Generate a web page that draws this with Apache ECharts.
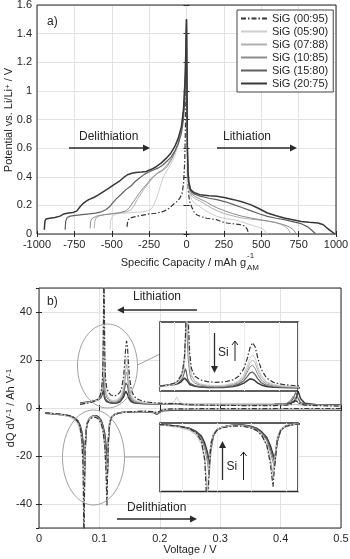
<!DOCTYPE html>
<html><head><meta charset="utf-8">
<script src="https://cdn.jsdelivr.net/npm/echarts@6/dist/echarts.min.js"></script>
<style>html,body{margin:0;padding:0;background:#fff}#c{width:350px;height:559px}</style>
</head><body><div id="c"></div>
<script>
// ---------- data: panel a) potential vs specific capacity [mAh/g, V] ----------
const names = ['SiG (00:95)','SiG (05:90)','SiG (07:88)','SiG (10:85)','SiG (15:80)','SiG (20:75)'];
const capTicks = [-1000,-750,-500,-250,0,250,500,750,1000];
const potTicks = [0,0.2,0.4,0.6,0.8,1,1.2,1.4,1.6];

const sig0095 = [[-398,0.05],[-393,0.09],[-382,0.11],[-350,0.12],[-300,0.13],[-250,0.14],[-200,0.145],[-150,0.16],[-115,0.18],[-85,0.21],[-60,0.23],[-45,0.25],[-30,0.28],[-20,0.35],[-12,0.5],[-6,0.8],[-2,1.2],[0,1.5],
  [2,1.1],[5,0.7],[8,0.45],[12,0.3],[20,0.23],[34,0.19],[50,0.155],[68,0.135],[100,0.12],[135,0.11],[170,0.105],[203,0.1],[235,0.085],[270,0.077],[320,0.07],[360,0.065],[390,0.055],[405,0.035],[412,0.015],[417,0]];
const sig0590 = [[-512,0.03],[-508,0.09],[-495,0.125],[-470,0.14],[-410,0.146],[-330,0.152],[-270,0.158],[-235,0.175],[-215,0.21],[-200,0.25],[-185,0.3],[-165,0.37],[-145,0.42],[-115,0.47],[-80,0.54],[-50,0.64],[-25,0.8],[-10,1.1],[0,1.5],
  [3,1.0],[6,0.6],[10,0.38],[18,0.3],[34,0.24],[60,0.21],[90,0.19],[135,0.158],[170,0.14],[203,0.123],[250,0.11],[316,0.1],[360,0.088],[406,0.072],[450,0.058],[496,0.042],[520,0.028],[533,0.015],[541,0]];
const sig0788 = [[-617,0.04],[-613,0.09],[-603,0.115],[-575,0.13],[-520,0.14],[-460,0.148],[-400,0.155],[-370,0.17],[-350,0.2],[-330,0.24],[-305,0.28],[-280,0.32],[-250,0.36],[-220,0.4],[-190,0.43],[-160,0.45],[-125,0.49],[-90,0.55],[-58,0.63],[-33,0.74],[-16,0.9],[-6,1.12],[0,1.5],
  [3,1.0],[6,0.6],[10,0.38],[18,0.3],[35,0.265],[60,0.245],[90,0.23],[130,0.205],[170,0.18],[210,0.16],[260,0.14],[316,0.125],[370,0.112],[428,0.104],[490,0.097],[541,0.09],[590,0.08],[630,0.068],[660,0.052],[680,0.035],[690,0.015],[695,0]];
const sig1085 = [[-645,0.04],[-641,0.09],[-630,0.11],[-600,0.125],[-550,0.135],[-500,0.14],[-450,0.148],[-410,0.16],[-385,0.18],[-365,0.21],[-345,0.24],[-320,0.28],[-290,0.32],[-265,0.35],[-235,0.39],[-200,0.42],[-165,0.44],[-130,0.47],[-95,0.53],[-60,0.62],[-35,0.73],[-18,0.88],[-7,1.1],[0,1.5],
  [3,1.0],[6,0.6],[10,0.4],[18,0.32],[35,0.28],[60,0.26],[90,0.245],[130,0.225],[170,0.2],[210,0.18],[260,0.16],[316,0.14],[370,0.125],[428,0.112],[490,0.1],[541,0.092],[600,0.08],[650,0.065],[690,0.048],[715,0.03],[728,0.012],[733,0]];
const sig1580 = [[-812,0.03],[-808,0.09],[-798,0.115],[-778,0.125],[-740,0.13],[-700,0.135],[-650,0.14],[-610,0.146],[-570,0.155],[-540,0.17],[-515,0.19],[-495,0.216],[-470,0.245],[-440,0.274],[-405,0.31],[-372,0.335],[-345,0.365],[-316,0.39],[-285,0.415],[-259,0.43],[-225,0.445],[-192,0.46],[-160,0.48],[-135,0.505],[-105,0.535],[-79,0.577],[-55,0.63],[-34,0.705],[-20,0.8],[-11,0.94],[-5,1.15],[0,1.5],
  [3,1.0],[6,0.6],[10,0.42],[16,0.34],[28,0.3],[50,0.28],[90,0.265],[150,0.25],[203,0.24],[260,0.225],[316,0.205],[370,0.185],[428,0.163],[490,0.14],[541,0.123],[600,0.11],[654,0.1],[710,0.087],[767,0.072],[810,0.05],[834,0.03],[852,0.012],[863,0]];
const sig2075 = [[-951,0.03],[-947,0.09],[-940,0.105],[-915,0.11],[-880,0.115],[-846,0.125],[-820,0.14],[-790,0.147],[-760,0.15],[-735,0.16],[-712,0.19],[-690,0.215],[-654,0.24],[-620,0.255],[-586,0.275],[-550,0.3],[-519,0.32],[-485,0.345],[-451,0.367],[-420,0.395],[-395,0.414],[-365,0.425],[-338,0.43],[-300,0.433],[-270,0.437],[-235,0.452],[-203,0.47],[-170,0.495],[-135,0.53],[-105,0.565],[-79,0.61],[-55,0.67],[-34,0.75],[-20,0.87],[-11,1.05],[-5,1.25],[0,1.5],
  [3,1.0],[6,0.62],[10,0.44],[16,0.36],[28,0.31],[50,0.29],[90,0.275],[150,0.268],[203,0.263],[260,0.253],[316,0.24],[370,0.225],[428,0.205],[480,0.18],[541,0.147],[600,0.128],[654,0.112],[710,0.1],[767,0.088],[820,0.082],[880,0.077],[915,0.065],[936,0.045],[965,0.022],[992,0]];

// ---------- data: panel b) dQ/dV vs voltage ----------
const voltTicks = [0,0.1,0.2,0.3,0.4,0.5];
const liV = [0.068,0.075,0.085,0.092,0.097,0.1,0.102,0.104,0.105,0.106,0.1065,0.107,0.1075,0.108,0.109,0.11,0.112,0.115,0.119,0.124,0.129,0.134,0.137,0.14,0.142,0.1435,0.145,0.1465,0.148,0.15,0.153,0.157,0.162,0.17,0.18,0.19,0.2,0.21,0.22,0.225,0.228,0.231,0.236,0.25,0.3,0.35,0.39,0.41,0.417,0.421,0.425,0.429,0.433,0.44,0.46,0.5];
const li0095 = [1.5,1.8,2.2,2.8,3.5,4.5,5.8,9,12,20,30,45,62,45,22,13,8.5,6.5,5.4,5,5.3,6.5,8.5,13,19,25,28,25.5,19,12.5,7.5,5,3.8,3,2.5,2.2,2,1.9,1.8,1.9,2,1.8,1.6,1.4,1.1,1,1,1.2,1.6,2.2,3,2.6,1.7,1.2,1,0.8];
const li0590 = [1.6,1.9,2.3,2.7,3.2,3.9,4.8,7,9.5,15,24,38,52,38,17,9.5,5.8,4.2,3.4,3.1,3.4,4.5,6,9.5,14.5,19,21,19,14,9,5.5,3.8,3,2.5,2.2,2,1.9,1.9,2.2,3,4.6,3,2,1.6,1.3,1.2,1.1,1.2,1.3,1.4,1.4,1.3,1.2,1.1,1,0.9];
const li0788 = [1.7,2,2.4,2.8,3.3,4,4.9,7,9.5,15,24,36,47,34,15.5,8.7,5.4,3.9,3.1,2.8,3,4,5.3,8.3,12.5,16.3,18,16.3,12,7.8,4.8,3.4,2.7,2.3,2,1.9,1.8,1.7,1.6,1.6,1.6,1.6,1.5,1.4,1.3,1.2,1.2,1.3,1.4,1.5,1.5,1.4,1.3,1.2,1.1,1];
const li1085 = [1.8,2.1,2.5,2.9,3.4,4.2,5.3,8,11.5,19,30,42,33,20,10,6.5,4.5,3.4,2.8,2.5,2.7,3.6,4.8,7.3,11,14,15,13,9.5,6.3,4,2.9,2.4,2.1,1.9,1.8,1.7,1.6,1.5,1.5,1.5,1.5,1.4,1.4,1.3,1.3,1.4,2,3.3,5,3.3,2,1.6,1.4,1.2,1];
const li1580 = [1.9,2.2,2.6,3,3.5,4.1,4.8,6.3,8,11,13,11.5,8.5,6.5,4.6,3.7,3,2.5,2.2,2.1,2.3,3,4,6,8.5,10.5,11,9.5,7,4.8,3.2,2.4,2.1,1.9,1.8,1.7,1.6,1.6,1.5,1.5,1.5,1.5,1.5,1.4,1.4,1.4,1.5,1.8,2.6,4,6.5,4,2.3,1.6,1.3,1.1];
const li2075 = [2,2.3,2.6,2.9,3.3,3.7,4.2,5.2,6.2,7.5,8,7.3,6,5,3.8,3.2,2.7,2.3,2.1,2,2.1,2.6,3.3,4.6,6,7,6.8,5.8,4.6,3.5,2.6,2.2,2,1.9,1.8,1.8,1.7,1.7,1.6,1.6,1.6,1.6,1.6,1.5,1.5,1.5,1.6,1.7,2,2.6,3.6,7,4,2,1.4,1.2];

const deV = [0.01,0.02,0.03,0.04,0.05,0.058,0.064,0.068,0.071,0.073,0.0745,0.0755,0.0765,0.078,0.08,0.083,0.087,0.091,0.095,0.099,0.103,0.106,0.109,0.111,0.1125,0.1135,0.115,0.117,0.12,0.125,0.132,0.14,0.155,0.175,0.19,0.195,0.198,0.201,0.205,0.22,0.26,0.3,0.35,0.4,0.45,0.5];
const de0095 = [-2,-2.2,-2.4,-2.7,-3.2,-4,-5.5,-8,-13,-25,-60,-30,-15,-9,-6.5,-5,-4.2,-3.8,-4,-4.8,-6.5,-9.5,-16,-27,-41,-28,-12,-6.5,-4,-2.8,-2.2,-1.8,-1.5,-1.3,-1.5,-2,-2.5,-1.2,-0.6,-0.4,-0.3,-0.3,-0.3,-0.2,-0.2,-0.2];
const de0590 = [-2,-2.2,-2.5,-2.9,-3.6,-4.8,-6.5,-9.5,-15,-26,-48,-26,-14,-8.5,-6,-4.6,-3.9,-3.5,-3.8,-4.8,-6.8,-10,-16.5,-26,-37,-25,-11,-6,-3.8,-2.7,-2.1,-1.8,-1.5,-1.4,-1.6,-2.1,-2.6,-1.3,-0.7,-0.5,-0.4,-0.4,-0.4,-0.4,-0.4,-0.4];
const de0788 = [-2,-2.2,-2.5,-2.9,-3.5,-4.6,-6.3,-9,-14,-24,-46,-27,-14,-8.5,-6,-4.6,-3.8,-3.4,-3.7,-4.6,-6.5,-9.5,-15.5,-24,-33,-24,-10.5,-5.8,-3.6,-2.6,-2.1,-1.8,-1.5,-1.4,-1.6,-2.2,-2.7,-1.3,-0.8,-0.6,-0.5,-0.5,-0.5,-0.5,-0.5,-0.5];
const de1085 = [-2,-2.2,-2.4,-2.7,-3.2,-4.1,-5.6,-8,-12,-18,-26,-35,-20,-10,-6.5,-4.6,-3.7,-3.3,-3.5,-4.2,-5.8,-8.3,-13,-20,-26,-29,-14,-6.5,-3.8,-2.6,-2,-1.7,-1.5,-1.4,-1.7,-2.3,-2.8,-1.4,-0.9,-0.7,-0.6,-0.6,-0.6,-0.6,-0.6,-0.6];
const de1580 = [-2.1,-2.3,-2.5,-2.8,-3.2,-4,-5.3,-7.5,-11,-16,-22,-28,-17,-9,-6,-4.5,-3.6,-3.2,-3.3,-4,-5.5,-8,-12,-18,-23,-26,-13,-6.2,-3.7,-2.6,-2,-1.7,-1.5,-1.5,-1.8,-2.4,-3,-1.5,-1,-0.8,-0.7,-0.7,-0.7,-0.7,-0.7,-0.7];
const de2075 = [-2.2,-2.4,-2.6,-2.9,-3.3,-4,-5.2,-7.2,-10,-14.5,-20,-25.5,-17,-9.5,-6.2,-4.6,-3.7,-3.2,-3.2,-3.8,-5.2,-7.5,-11,-16,-21,-24,-13,-6.3,-3.8,-2.7,-2.1,-1.8,-1.6,-1.6,-1.9,-2.6,-3.2,-1.6,-1.1,-0.9,-0.8,-0.8,-0.8,-0.8,-0.8,-0.8];

// ---------- styling (not data) ----------
const FONT = '"Liberation Sans", Arial, sans-serif';
const TXT = '#262626';
const GRIDC = '#e2e2e2';
const lineColors = ['#363636','#cdcdcd','#b0b0b0','#8c8c8c','#606060','#383838'];
const lineWidths = [1.2,1,1,1,1.2,1.5];
const lineTypes = [[5,2,1.5,2],'solid','solid','solid','solid','solid'];

const capAll = [sig0095,sig0590,sig0788,sig1085,sig1580,sig2075];
const liAll = [li0095,li0590,li0788,li1085,li1580,li2075];
const deAll = [de0095,de0590,de0788,de1085,de1580,de2075];

const chart = echarts.init(document.getElementById('c'), null, {renderer:'canvas'});

function lineSeries(i, xi, yi, data, z){
  return {type:'line', name:names[i], xAxisIndex:xi, yAxisIndex:yi, data:data, symbol:'none', showSymbol:false,
    silent:true, z:z, animation:false,
    lineStyle:{color:lineColors[i], width:lineWidths[i], type:lineTypes[i]}, itemStyle:{color:lineColors[i]}};
}
const series = [];
capAll.forEach((d,i)=>series.push(lineSeries(i,0,0,d,2)));
for (let i=5;i>=0;i--){
  series.push(lineSeries(i,2,2,liV.map((v,k)=>[v,liAll[i][k]]),2));
  series.push(lineSeries(i,2,2,deV.map((v,k)=>[v,deAll[i][k]]),2));
}
for (let i=5;i>=0;i--){
  series.push(lineSeries(i,4,4,liV.map((v,k)=>[v,liAll[i][k]]),8));
  series.push(lineSeries(i,5,5,deV.map((v,k)=>[v,deAll[i][k]]),8));
}

const labelStyle = {fontSize:11, color:TXT, fontFamily:FONT};
const tick = {show:true, inside:true, length:3, lineStyle:{color:TXT, width:1}};
function mainAx(extra){ return Object.assign({type:'value', axisLine:{show:false}, axisTick:tick,
  splitLine:{show:true, lineStyle:{color:GRIDC, width:1}}, z:0}, extra); }
function mirrorAx(extra){ return Object.assign({type:'value', axisLine:{show:false}, axisTick:tick,
  axisLabel:{show:false}, splitLine:{show:false}, z:0}, extra); }

// ---------- annotation helpers (graphics only) ----------
function T(text,x,y,size,align,valign,color){
  return {type:'text', x:x, y:y, z:30, silent:true, style:{text:text, fontSize:size, fontFamily:FONT, fill:color||TXT,
    align:align, verticalAlign:valign, textAlign:align, textVerticalAlign:valign}};
}
function VT(text,x,y){
  return {type:'text', x:x, y:y, rotation:Math.PI/2, z:30, silent:true, style:{text:text, fontSize:11, fontFamily:FONT, fill:TXT,
    align:'center', verticalAlign:'middle', textAlign:'center', textVerticalAlign:'middle',
    rich:{sup:{fontSize:8, fontFamily:FONT, fill:TXT, verticalAlign:'top'}}}};
}
function arrow(x1,y1,x2,y2,hl,hw,lw){
  const dx=x2-x1, dy=y2-y1, L=Math.hypot(dx,dy), ux=dx/L, uy=dy/L;
  const bx=x2-ux*hl, by=y2-uy*hl;
  return [{type:'line', z:30, silent:true, shape:{x1:x1,y1:y1,x2:bx,y2:by}, style:{stroke:'#2a2a2a', lineWidth:lw}},
    {type:'polygon', z:30, silent:true, shape:{points:[[x2,y2],[bx-uy*hw,by+ux*hw],[bx+uy*hw,by-ux*hw]]}, style:{fill:'#2a2a2a'}}];
}
function openUp(x,yTop,yBot){
  return [{type:'line', z:30, silent:true, shape:{x1:x,y1:yBot,x2:x,y2:yTop}, style:{stroke:'#222', lineWidth:1}},
    {type:'polyline', z:30, silent:true, shape:{points:[[x-3,yTop+4],[x,yTop],[x+3,yTop+4]]}, style:{stroke:'#222', lineWidth:1, fill:null}}];
}
const GREY = '#a0a0a0';
const elements = [].concat(
  [T('a)',47,22,12,'left','middle'),
   T('Delithiation',79,137,12,'left','middle'),
   T('Lithiation',223,137,12,'left','middle'),
   T('Specific Capacity / mAh g',246,263,11,'right','middle'),
   T('-1',247,256,8,'left','middle'),
   T('AM',247,268,8,'left','middle'),
   VT('Potential vs. Li/Li{sup|+} / V',9,120),
   VT('dQ dV{sup|-1} / Ah V{sup|-1}',10.5,408),
   T('b)',47,302,12,'left','middle'),
   T('Lithiation',133,297,12,'left','middle'),
   T('Delithiation',127,508,12,'left','middle'),
   T('Si',218,353,12,'left','middle'),
   T('Si',226.5,467,12,'left','middle')],
  arrow(69,148,150,148,7,3.5,1.6),
  arrow(217,148,297,148,7,3.5,1.6),
  arrow(197,310,117,310,7,3.5,1.6),
  arrow(117,519,197,519,7,3.5,1.6),
  arrow(214.5,333,214.5,373,7,3.5,1.3),
  arrow(222.5,480,222.5,441,7,3.5,1.3),
  openUp(235,341,361),
  openUp(243.5,452,480),
  [{type:'ellipse', z:3, silent:true, shape:{cx:107.5,cy:366,rx:30,ry:42}, style:{fill:'rgba(0,0,0,0)', stroke:GREY, lineWidth:1}},
   {type:'ellipse', z:3, silent:true, shape:{cx:93.5,cy:457.5,rx:31,ry:47.5}, style:{fill:'rgba(0,0,0,0)', stroke:GREY, lineWidth:1}},
   {type:'line', z:3, silent:true, shape:{x1:137.5,y1:365,x2:160,y2:354}, style:{stroke:GREY, lineWidth:1}},
   {type:'line', z:3, silent:true, shape:{x1:124.5,y1:457,x2:160,y2:457}, style:{stroke:GREY, lineWidth:1}}]
);

const option = {
  animation:false,
  backgroundColor:'#fff',
  textStyle:{fontFamily:FONT},
  grid:[
    {left:37, top:5, width:299, height:229, show:true, borderColor:TXT, borderWidth:1, z:1, containLabel:false, outerBoundsMode:'none'},
    {left:39, top:288, width:302, height:240, show:true, borderColor:TXT, borderWidth:1, z:1, containLabel:false, outerBoundsMode:'none'},
    {left:160, top:322, width:138, height:69, show:true, backgroundColor:'#fff', borderColor:'#2a2a2a', borderWidth:1.5, z:5, containLabel:false, outerBoundsMode:'none'},
    {left:160, top:423, width:138, height:68.5, show:true, backgroundColor:'#fff', borderColor:'#2a2a2a', borderWidth:1.5, z:5, containLabel:false, outerBoundsMode:'none'}
  ],
  legend:{data:names, orient:'vertical', left:237, top:10, itemWidth:26, itemHeight:8, itemGap:2,
    padding:[3,5,3,3], borderColor:'#444', borderWidth:1, backgroundColor:'#fff', selectedMode:false,
    itemStyle:{opacity:0, borderWidth:0},
    textStyle:{fontSize:11, fontFamily:FONT, color:TXT}},
  xAxis:[
    mainAx({gridIndex:0, min:capTicks[0], max:capTicks[capTicks.length-1], interval:250,
      axisLabel:Object.assign({margin:5, formatter:v=>String(v)},labelStyle)}),
    mirrorAx({gridIndex:0, position:'top', min:capTicks[0], max:capTicks[capTicks.length-1], interval:250}),
    mainAx({gridIndex:1, min:voltTicks[0], max:voltTicks[voltTicks.length-1], interval:0.1, axisLabel:Object.assign({margin:5},labelStyle),
      name:'Voltage / V', nameLocation:'middle', nameGap:14, nameTextStyle:labelStyle}),
    mirrorAx({gridIndex:1, position:'top', min:voltTicks[0], max:voltTicks[voltTicks.length-1], interval:0.1}),
    {type:'value', gridIndex:2, min:0.092, max:0.171, splitNumber:4, z:6, axisLine:{show:false}, axisTick:{show:false}, axisLabel:{show:false},
      splitLine:{show:true, lineStyle:{color:'#ebebeb'}}},
    {type:'value', gridIndex:3, min:0.047, max:0.127, splitNumber:4, z:6, axisLine:{show:false}, axisTick:{show:false}, axisLabel:{show:false},
      splitLine:{show:true, lineStyle:{color:'#ebebeb'}}}
  ],
  yAxis:[
    mainAx({gridIndex:0, min:potTicks[0], max:potTicks[potTicks.length-1], interval:0.2, axisLabel:Object.assign({margin:5},labelStyle)}),
    mirrorAx({gridIndex:0, position:'right', min:potTicks[0], max:potTicks[potTicks.length-1], interval:0.2}),
    mainAx({gridIndex:1, min:-50, max:50, splitNumber:5,
      axisLabel:Object.assign({margin:7, showMinLabel:false, showMaxLabel:false},labelStyle)}),
    mirrorAx({gridIndex:1, position:'right', min:-50, max:50, splitNumber:5}),
    {type:'value', gridIndex:2, min:0, max:40, show:false},
    {type:'value', gridIndex:3, min:-44, max:-2, show:false}
  ],
  graphic:{elements:elements},
  series:series
};
chart.setOption(option);
</script></body></html>
